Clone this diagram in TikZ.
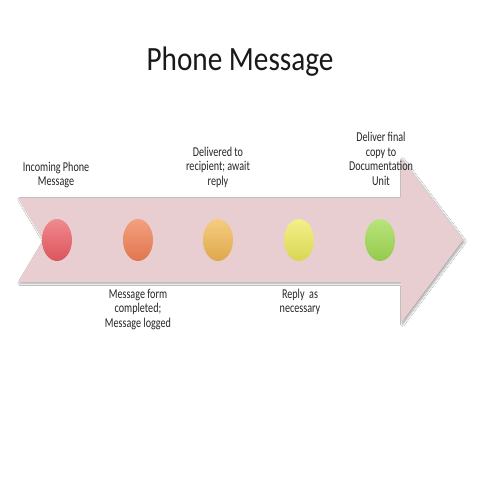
\documentclass[tikz,border=0pt]{standalone}
\usepackage{fontspec}
\setmainfont{Carlito}
\usetikzlibrary{shadows.blur,shapes.geometric}
\definecolor{arrowfill}{HTML}{E8CED0}
\definecolor{cA}{HTML}{DC545C}
\definecolor{cAl}{HTML}{F08A8E}
\definecolor{cB}{HTML}{E07650}
\definecolor{cBl}{HTML}{F4A07E}
\definecolor{cC}{HTML}{DEA84C}
\definecolor{cCl}{HTML}{F6CC80}
\definecolor{cD}{HTML}{D8D654}
\definecolor{cDl}{HTML}{F4F088}
\definecolor{cE}{HTML}{94CA4C}
\definecolor{cEl}{HTML}{B8E47C}
\newcommand{\sqtext}[1]{\scalebox{0.75}[1]{\fontsize{13.5}{14.5}\selectfont\begin{tabular}{@{}c@{}}#1\end{tabular}}}
\tikzset{
  x=1pt,y=-1pt,
  dot/.style 2 args={ellipse, minimum width=30pt, minimum height=42pt, inner sep=0pt,
    top color=#2, bottom color=#1, draw=none},
  lbl/.style={text=black!85, inner sep=0pt},
}
\begin{document}
\begin{tikzpicture}
\useasboundingbox (0,0) rectangle (480,480);
\fill[white] (0,0) rectangle (480,480);
\node[text=black!90] (title) at (240,62) {\scalebox{0.86}[1]{\fontsize{34}{40}\selectfont Phone Message}};
% arrow
\fill[arrowfill, blur shadow={shadow xshift=1.5pt, shadow yshift=-1.5pt, shadow blur steps=6, shadow opacity=35}]
  (18,198) -- (401,198) -- (401,158) -- (463,240) -- (401,323) -- (401,282) -- (18,282) -- (43,240) -- cycle;
% dots
\node[dot={cA}{cAl}] (d1) at (57,240) {};
\node[dot={cB}{cBl}] (d2) at (138,240) {};
\node[dot={cC}{cCl}] (d3) at (218,240) {};
\node[dot={cD}{cDl}] (d4) at (299,240) {};
\node[dot={cE}{cEl}] (d5) at (380,240) {};
% labels
\node[lbl] (l1) at (56,175.5) {\sqtext{Incoming Phone\\Message}};
\node[lbl] (l3) at (218,168) {\sqtext{Delivered to\\recipient; await\\reply}};
\node[lbl] (l5) at (381,160.5) {\sqtext{Deliver final\\copy to\\Documentation\\Unit}};
\node[lbl] (l2) at (138,310) {\sqtext{Message form\\completed;\\Message logged}};
\node[lbl] (l4) at (300,302.5) {\sqtext{Reply~~as\\necessary}};
\end{tikzpicture}
\end{document}
